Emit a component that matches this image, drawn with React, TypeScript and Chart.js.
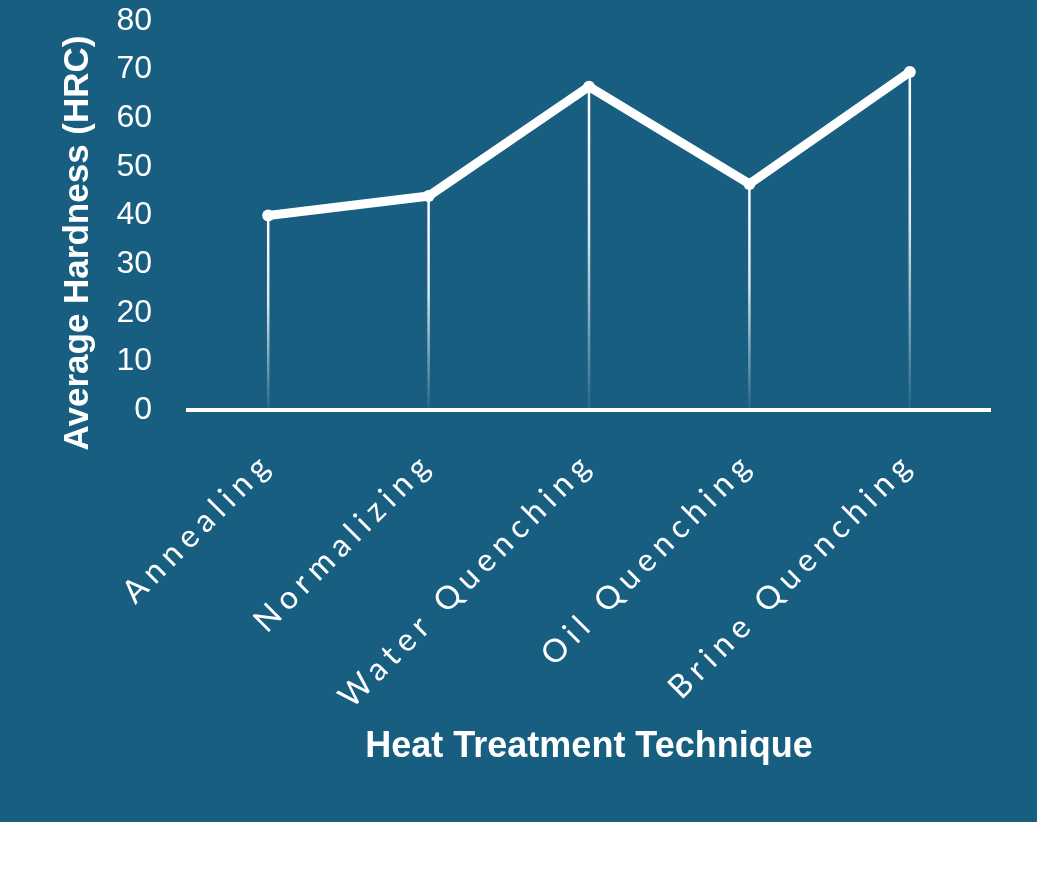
import { useEffect, useRef } from "react";
import { Chart, registerables } from "chart.js";
import type { ChartConfiguration, Plugin } from "chart.js";

Chart.register(...registerables);

// Data
const techniques = [
  "Annealing",
  "Normalizing",
  "Water Quenching",
  "Oil Quenching",
  "Brine Quenching",
];
const hardness = [40, 44, 66.5, 46.5, 69.5];

const yTitle = "Average Hardness (HRC)";
const xTitle = "Heat Treatment Technique";

const BG = "#185e80";
const W = 1037;
const H = 822;

// vertical fading lines from each point down to the axis
const dropLines: Plugin<"line"> = {
  id: "dropLines",
  beforeDatasetsDraw(chart) {
    const { ctx, scales } = chart;
    const y0 = scales.y.getPixelForValue(0);
    const meta = chart.getDatasetMeta(0);
    ctx.save();
    meta.data.forEach((pt) => {
      const g = ctx.createLinearGradient(0, pt.y, 0, y0);
      g.addColorStop(0, "rgba(255,255,255,1)");
      g.addColorStop(0.45, "rgba(255,255,255,0.85)");
      g.addColorStop(1, "rgba(255,255,255,0.05)");
      ctx.strokeStyle = g;
      ctx.lineWidth = 2.5;
      ctx.beginPath();
      ctx.moveTo(pt.x, pt.y);
      ctx.lineTo(pt.x, y0);
      ctx.stroke();
    });
    ctx.restore();
  },
};

// spaced-out category labels, y title placed like the reference
const labelStyle: Plugin<"line"> = {
  id: "labelStyle",
  beforeDraw(chart) {
    const sx: any = chart.scales.x;
    if (!sx._spaced) {
      const orig = sx.drawLabels.bind(sx);
      sx.drawLabels = (area: any) => {
        const c: any = chart.ctx;
        c.save();
        c.letterSpacing = "6.5px";
        orig(area);
        c.restore();
      };
      sx._spaced = true;
    }
  },
  afterDraw(chart) {
    const { ctx, chartArea } = chart;
    ctx.save();
    ctx.translate(78, chartArea.bottom - 167);
    ctx.rotate(-Math.PI / 2);
    ctx.font = "bold 35px 'Liberation Sans', Arial, sans-serif";
    ctx.fillStyle = "#ffffff";
    ctx.textAlign = "center";
    ctx.textBaseline = "middle";
    ctx.fillText(yTitle, 0, 0);
    ctx.restore();
  },
};

export default function App() {
  const canvasRef = useRef<HTMLCanvasElement>(null);

  useEffect(() => {
    document.body.style.margin = "0";
    if (!canvasRef.current) return;

    const config: ChartConfiguration<"line"> = {
      type: "line",
      data: {
        labels: techniques,
        datasets: [
          {
            data: hardness,
            borderColor: "#ffffff",
            backgroundColor: "#ffffff",
            borderWidth: 9,
            borderCapStyle: "round",
            borderJoinStyle: "miter",
            pointRadius: 6,
            pointBorderWidth: 0,
            pointBackgroundColor: "#ffffff",
            tension: 0,
          },
        ],
      },
      options: {
        responsive: false,
        animation: false,
        layout: { padding: { top: 21, right: 47, bottom: 0, left: 0 } },
        plugins: {
          legend: { display: false },
          tooltip: { enabled: false },
        },
        scales: {
          x: {
            offset: true,
            grid: { display: false, drawTicks: false },
            border: { display: true, color: "#ffffff", width: 4 },
            ticks: {
              color: "#ffffff",
              minRotation: 45,
              maxRotation: 45,
              autoSkip: false,
              padding: 34,
              font: { family: "Lato, 'Open Sans', sans-serif", size: 32 },
            },
            title: {
              display: true,
              text: xTitle,
              color: "#ffffff",
              font: { family: "'Liberation Sans', Arial, sans-serif", size: 36, weight: "bold" },
              padding: { top: 0, bottom: 53 },
            },
            afterFit(scale) {
              scale.height = H - 410;
            },
          },
          y: {
            min: 0,
            max: 80,
            grid: { display: false, drawTicks: false },
            border: { display: false },
            ticks: {
              stepSize: 10,
              color: "#ffffff",
              padding: 36,
              font: { family: "'Liberation Sans', Arial, sans-serif", size: 32 },
            },
            afterFit(scale) {
              scale.width = 188;
              scale.paddingTop = 0;
              scale.paddingBottom = 0;
            },
          },
        },
      },
      plugins: [dropLines, labelStyle],
    };

    const chart = new Chart(canvasRef.current, config);
    return () => {
      chart.destroy();
    };
  }, []);

  return (
    <div style={{ width: W, height: H, background: BG }}>
      <canvas ref={canvasRef} width={W} height={H} />
    </div>
  );
}
